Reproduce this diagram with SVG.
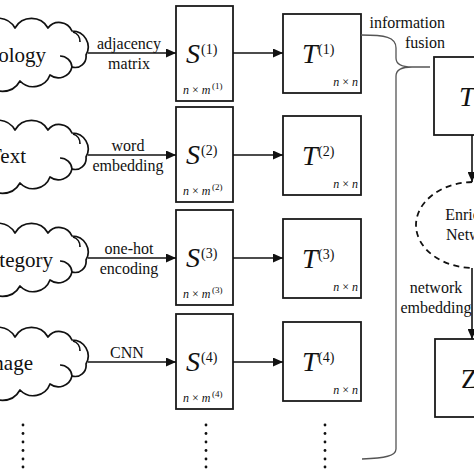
<svg xmlns="http://www.w3.org/2000/svg" width="474" height="474" viewBox="0 0 474 474">
<style>
.box{fill:#fff;stroke:#1a1a1a;stroke-width:1.8}
.cloud{fill:#fff;stroke:#111;stroke-width:1.7;stroke-linejoin:round}
.curl{fill:none;stroke:#111;stroke-width:1.7}
.ln{stroke:#111;stroke-width:1.6;fill:none}
.lbl{font-family:"Liberation Serif","Times New Roman",serif;font-size:16px;fill:#111}
.big{font-family:"Liberation Serif","Times New Roman",serif;font-size:21px;fill:#111}
.math{font-family:"Liberation Serif","Times New Roman",serif;font-style:italic;fill:#111}
.sup{font-family:"Liberation Serif","Times New Roman",serif;fill:#111}
.dot{fill:#111}
</style>
<defs>
<marker id="ah" markerUnits="userSpaceOnUse" markerWidth="10" markerHeight="9" refX="10" refY="4.5" orient="auto">
<path d="M0,0 L10,4.5 L0,9 Z" fill="#111"/>
</marker>
<path id="cloudShape" d="M86,2 A16,16 0 0 0 72,-22 A14,14 0 0 0 48,-25 A19,19 0 0 0 15,-25 A20,20 0 0 0 -20,-24 A20,20 0 0 0 -55,-20 A17,17 0 0 0 -70,5 A17,17 0 0 0 -50,28 A20,20 0 0 0 -15,28 A20,20 0 0 0 20,28 A18,18 0 0 0 50,22 A14,14 0 0 0 72,14 A11,11 0 0 0 86,2 Z"/>
</defs>

<g id="cloud-topology" transform="translate(0,53)">
<use href="#cloudShape" class="cloud"/>
<path class="curl" d="M60,3 A12,12 0 0 1 72,14"/>
<path class="curl" d="M73,-21 A10,10 0 0 1 80,-11"/>
<text class="big" x="46" y="9" text-anchor="end">Topology</text>
</g>
<g id="cloud-text" transform="translate(0,155)">
<use href="#cloudShape" class="cloud"/>
<path class="curl" d="M60,3 A12,12 0 0 1 72,14"/>
<path class="curl" d="M73,-21 A10,10 0 0 1 80,-11"/>
<text class="big" x="26" y="8" text-anchor="end">Text</text>
</g>
<g id="cloud-category" transform="translate(0,258)">
<use href="#cloudShape" class="cloud"/>
<path class="curl" d="M60,3 A12,12 0 0 1 72,14"/>
<path class="curl" d="M73,-21 A10,10 0 0 1 80,-11"/>
<text class="big" x="53" y="9" text-anchor="end">Category</text>
</g>
<g id="cloud-image" transform="translate(0,362)">
<use href="#cloudShape" class="cloud"/>
<path class="curl" d="M60,3 A12,12 0 0 1 72,14"/>
<path class="curl" d="M73,-21 A10,10 0 0 1 80,-11"/>
<text class="big" x="33" y="8" text-anchor="end">Image</text>
</g>

<g id="S1"><rect class="box" x="176" y="6" width="57" height="95"/>
<text class="math" x="186" y="63" font-size="28">S</text><text class="sup" x="201" y="54" font-size="14">(1)</text>
<text class="math" x="183" y="94" font-size="12">n <tspan font-style="normal">×</tspan> m</text><text class="sup" x="212" y="89" font-size="9">(1)</text></g>
<g id="S2"><rect class="box" x="176" y="107" width="57" height="95"/>
<text class="math" x="186" y="164" font-size="28">S</text><text class="sup" x="201" y="155" font-size="14">(2)</text>
<text class="math" x="183" y="195" font-size="12">n <tspan font-style="normal">×</tspan> m</text><text class="sup" x="212" y="190" font-size="9">(2)</text></g>
<g id="S3"><rect class="box" x="176" y="210" width="57" height="95"/>
<text class="math" x="186" y="267" font-size="28">S</text><text class="sup" x="201" y="258" font-size="14">(3)</text>
<text class="math" x="183" y="298" font-size="12">n <tspan font-style="normal">×</tspan> m</text><text class="sup" x="212" y="293" font-size="9">(3)</text></g>
<g id="S4"><rect class="box" x="176" y="314" width="57" height="95"/>
<text class="math" x="186" y="371" font-size="28">S</text><text class="sup" x="201" y="362" font-size="14">(4)</text>
<text class="math" x="183" y="402" font-size="12">n <tspan font-style="normal">×</tspan> m</text><text class="sup" x="212" y="397" font-size="9">(4)</text></g>

<g id="T1"><rect class="box" x="283" y="14" width="78" height="79"/>
<text class="math" x="302" y="63" font-size="28">T</text><text class="sup" x="318" y="54" font-size="14">(1)</text>
<text class="math" x="358" y="86" font-size="12" text-anchor="end">n <tspan font-style="normal">×</tspan> n</text></g>
<g id="T2"><rect class="box" x="283" y="116" width="78" height="79"/>
<text class="math" x="302" y="165" font-size="28">T</text><text class="sup" x="318" y="156" font-size="14">(2)</text>
<text class="math" x="358" y="188" font-size="12" text-anchor="end">n <tspan font-style="normal">×</tspan> n</text></g>
<g id="T3"><rect class="box" x="283" y="219" width="78" height="79"/>
<text class="math" x="302" y="268" font-size="28">T</text><text class="sup" x="318" y="259" font-size="14">(3)</text>
<text class="math" x="358" y="291" font-size="12" text-anchor="end">n <tspan font-style="normal">×</tspan> n</text></g>
<g id="T4"><rect class="box" x="283" y="322" width="78" height="79"/>
<text class="math" x="302" y="371" font-size="28">T</text><text class="sup" x="318" y="362" font-size="14">(4)</text>
<text class="math" x="358" y="394" font-size="12" text-anchor="end">n <tspan font-style="normal">×</tspan> n</text></g>

<g id="T-fused"><rect class="box" x="434" y="57" width="80" height="78"/>
<text class="math" x="459" y="106" font-size="28">T</text></g>
<g id="enriched-network"><ellipse cx="474" cy="225" rx="58" ry="43" fill="none" stroke="#111" stroke-width="1.8" stroke-dasharray="6,4.5"/>
<text class="lbl" x="474" y="220" text-anchor="middle">Enriched</text>
<text class="lbl" x="474" y="240" text-anchor="middle">Network</text></g>
<g id="Z"><rect class="box" x="435" y="339" width="80" height="78"/>
<text class="sup" x="461" y="388" font-size="27">Z</text></g>

<g id="connectors">
<line class="ln" x1="88" y1="53" x2="176" y2="53" marker-end="url(#ah)"/>
<line class="ln" x1="88" y1="155" x2="176" y2="155" marker-end="url(#ah)"/>
<line class="ln" x1="88" y1="258" x2="176" y2="258" marker-end="url(#ah)"/>
<line class="ln" x1="88" y1="362" x2="176" y2="362" marker-end="url(#ah)"/>
<line class="ln" x1="233" y1="53" x2="283" y2="53" marker-end="url(#ah)"/>
<line class="ln" x1="233" y1="155" x2="283" y2="155" marker-end="url(#ah)"/>
<line class="ln" x1="233" y1="258" x2="283" y2="258" marker-end="url(#ah)"/>
<line class="ln" x1="233" y1="362" x2="283" y2="362" marker-end="url(#ah)"/>
<path d="M361,35 C385,35 396,37 396,48 L396,58 C396,64 402,67 412,67 L430,67 M412,67 C402,67 396,70 396,76 L396,449 C396,456 385,458 362,459" fill="none" stroke="#555" stroke-width="1.3"/>
<line class="ln" x1="472" y1="135" x2="472" y2="182" marker-end="url(#ah)"/>
<line class="ln" x1="472" y1="268" x2="472" y2="339" marker-end="url(#ah)"/>
<text class="lbl" x="129" y="49" text-anchor="middle">adjacency</text>
<text class="lbl" x="129" y="69" text-anchor="middle">matrix</text>
<text class="lbl" x="128" y="151" text-anchor="middle">word</text>
<text class="lbl" x="128" y="171" text-anchor="middle">embedding</text>
<text class="lbl" x="129" y="254" text-anchor="middle">one-hot</text>
<text class="lbl" x="129" y="274" text-anchor="middle">encoding</text>
<text class="lbl" x="127" y="358" text-anchor="middle">CNN</text>
<text class="lbl" x="445" y="28" text-anchor="end">information</text>
<text class="lbl" x="445" y="48" text-anchor="end">fusion</text>
<text class="lbl" x="436" y="293" text-anchor="middle">network</text>
<text class="lbl" x="436" y="313" text-anchor="middle">embedding</text>
</g>

<g id="dots">
<circle class="dot" cx="23" cy="425" r="1.4"/><circle class="dot" cx="23" cy="433.5" r="1.4"/><circle class="dot" cx="23" cy="442" r="1.4"/><circle class="dot" cx="23" cy="450.5" r="1.4"/><circle class="dot" cx="23" cy="459" r="1.4"/><circle class="dot" cx="23" cy="467" r="1.4"/>
<circle class="dot" cx="206" cy="425" r="1.4"/><circle class="dot" cx="206" cy="433.5" r="1.4"/><circle class="dot" cx="206" cy="442" r="1.4"/><circle class="dot" cx="206" cy="450.5" r="1.4"/><circle class="dot" cx="206" cy="459" r="1.4"/><circle class="dot" cx="206" cy="467" r="1.4"/>
<circle class="dot" cx="325" cy="425" r="1.4"/><circle class="dot" cx="325" cy="433.5" r="1.4"/><circle class="dot" cx="325" cy="442" r="1.4"/><circle class="dot" cx="325" cy="450.5" r="1.4"/><circle class="dot" cx="325" cy="459" r="1.4"/><circle class="dot" cx="325" cy="467" r="1.4"/>
</g>
</svg>
